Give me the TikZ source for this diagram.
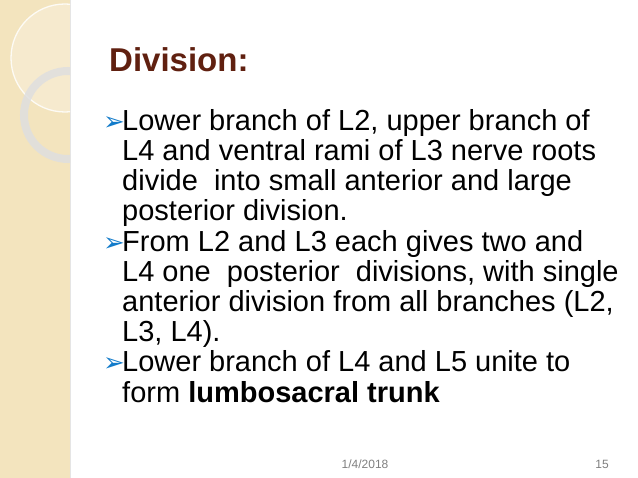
\documentclass[tikz,border=0pt]{standalone}
\usepackage{fontspec}
\setmainfont{Liberation Sans}
\newfontfamily\symfont{DejaVu Sans}
\begin{document}
\begin{tikzpicture}[x=1pt,y=-1pt,
  ln/.style={anchor=base west,inner sep=0pt,font=\fontsize{29}{33}\selectfont},
  bul/.style={anchor=base west,inner sep=0pt,text=cyan!60!blue,font=\symfont\fontsize{26}{28}\selectfont},
  ft/.style={anchor=base,inner sep=0pt,text=gray,font=\fontsize{12}{14}\selectfont}]
\definecolor{tan}{RGB}{243,228,190}
\definecolor{ttl}{RGB}{96,32,16}
\useasboundingbox (0,0) rectangle (638,478);
\fill[white] (0,0) rectangle (638,478);
\fill[tan] (0,0) rectangle (70,478);
\draw[gray!20,line width=1pt] (70,0) -- (70,478);
\begin{scope}
\clip (0,0) rectangle (70,478);
\fill[white,opacity=0.25] (65,58) circle (54);
\draw[white!85!tan,line width=1.3pt] (65,58) circle (54);
\draw[white!75!gray,line width=8pt,opacity=0.85] (68,115) circle (44);
\end{scope}
\node[anchor=base west,inner sep=0pt,text=ttl,font=\bfseries\fontsize{33}{36}\selectfont] (t) at (109,72) {Division:};
\node[bul] (b1) at (103,131) {➢};
\node[ln] (l1) at (122,131) {Lower branch of L2, upper branch of};
\node[ln] (l2) at (122,161) {L4 and ventral rami of L3 nerve roots};
\node[ln] (l3) at (122,191) {divide\ \ into small anterior and large};
\node[ln] (l4) at (122,221) {posterior division.};
\node[bul] (b2) at (103,252) {➢};
\node[ln] (l5) at (122,252) {From L2 and L3 each gives two and};
\node[ln] (l6) at (122,282) {L4 one\ \ posterior\ \ divisions, with single};
\node[ln] (l7) at (122,312) {anterior division from all branches (L2,};
\node[ln] (l8) at (122,342) {L3, L4).};
\node[bul] (b3) at (103,372) {➢};
\node[ln] (l9) at (122,372) {Lower branch of L4 and L5 unite to};
\node[ln] (l10) at (122,403) {form \textbf{lumbosacral trunk}};
\node[ft] (d) at (365,469) {1/4/2018};
\node[ft] (p) at (602,469) {15};
\end{tikzpicture}
\end{document}
